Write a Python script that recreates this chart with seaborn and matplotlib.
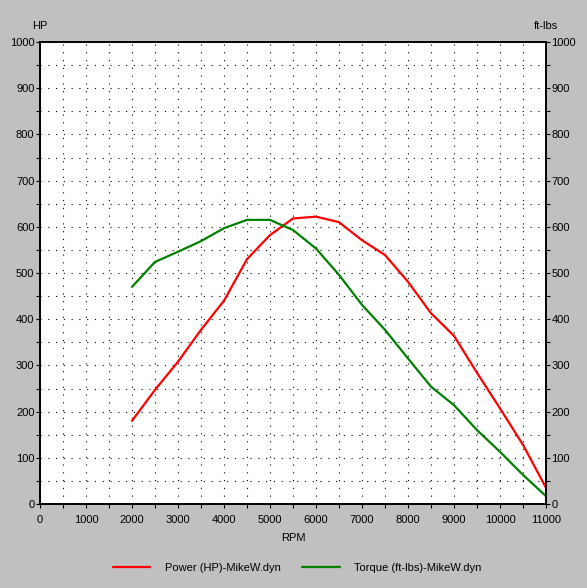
import numpy as np
import pandas as pd
import matplotlib
matplotlib.use("Agg")
import matplotlib.pyplot as plt
from matplotlib.ticker import MultipleLocator
import seaborn as sns

# --- Datos ---
rpm = [2000, 2500, 3000, 3500, 4000, 4500, 5000, 5500, 6000, 6500,
       7000, 7500, 8000, 8500, 9000, 9500, 10000, 10500, 11000]
power_hp = [180, 247, 308, 377, 440, 530, 582, 618, 622, 610,
            571, 539, 481, 413, 364, 284, 207, 128, 35]
torque_ftlbs = [470, 524, 546, 569, 597, 615, 615, 593, 553, 496,
                431, 377, 315, 254, 214, 160, 113, 63, 17]
series_names = ["Power (HP)-MikeW.dyn", "Torque (ft-lbs)-MikeW.dyn"]
x_ticks = list(range(0, 11001, 1000))
y_ticks = list(range(0, 1001, 100))

df = pd.DataFrame({
    "RPM": rpm * 2,
    "value": power_hp + torque_ftlbs,
    "serie": [series_names[0]] * len(rpm) + [series_names[1]] * len(rpm),
})

sns.set_style("ticks")
plt.rcParams["font.family"] = ["Liberation Sans", "DejaVu Sans"]
plt.rcParams["font.size"] = 8
plt.rcParams["text.color"] = "black"
plt.rcParams["axes.labelcolor"] = "black"

fig = plt.figure(figsize=(5.87, 5.88), dpi=100, facecolor="#c0c0c0")
W, H = 587, 588
ax = fig.add_axes([40 / W, 1 - 504 / H, (546 - 40) / W, (504 - 42) / H])
ax.set_facecolor("white")

sns.lineplot(data=df, x="RPM", y="value", hue="serie",
             palette={series_names[0]: "#ff0000", series_names[1]: "#008000"},
             linewidth=1.6, ax=ax)

ax.set_xlim(0, 11000)
ax.set_ylim(0, 1000)
ax.set_xticks(x_ticks)
ax.set_yticks(y_ticks)
ax.xaxis.set_minor_locator(MultipleLocator(500))
ax.yaxis.set_minor_locator(MultipleLocator(50))

for s in ax.spines.values():
    s.set_visible(True)
    s.set_linewidth(1.4)
    s.set_color("black")

ax.tick_params(which="both", direction="out", length=3, width=0.8,
               colors="black", labelsize=8, pad=1,
               left=True, right=True, bottom=True, top=False,
               labelleft=True, labelright=True)
ax.tick_params(axis="x", pad=5)

dots = (0, (1, 6))
ax.grid(which="both", color="black", linestyle=dots, linewidth=0.8)

ax.set_xlabel("RPM", fontsize=8, labelpad=6, color="black")
ax.set_ylabel("")
ax.text(0, 1.034, "HP", transform=ax.transAxes, ha="center", va="center",
        fontsize=8, color="black")
ax.text(1, 1.034, "ft-lbs", transform=ax.transAxes, ha="center", va="center",
        fontsize=8, color="black")

sns.move_legend(ax, "center", bbox_to_anchor=(297 / W, 1 - 568 / H),
                bbox_transform=fig.transFigure, ncol=2, frameon=False,
                title=None, fontsize=8, handlelength=3.4,
                handletextpad=1.3, columnspacing=1.9)
for t in ax.get_legend().get_texts():
    t.set_color("black")

fig.savefig("out.png", dpi=100, facecolor=fig.get_facecolor())
